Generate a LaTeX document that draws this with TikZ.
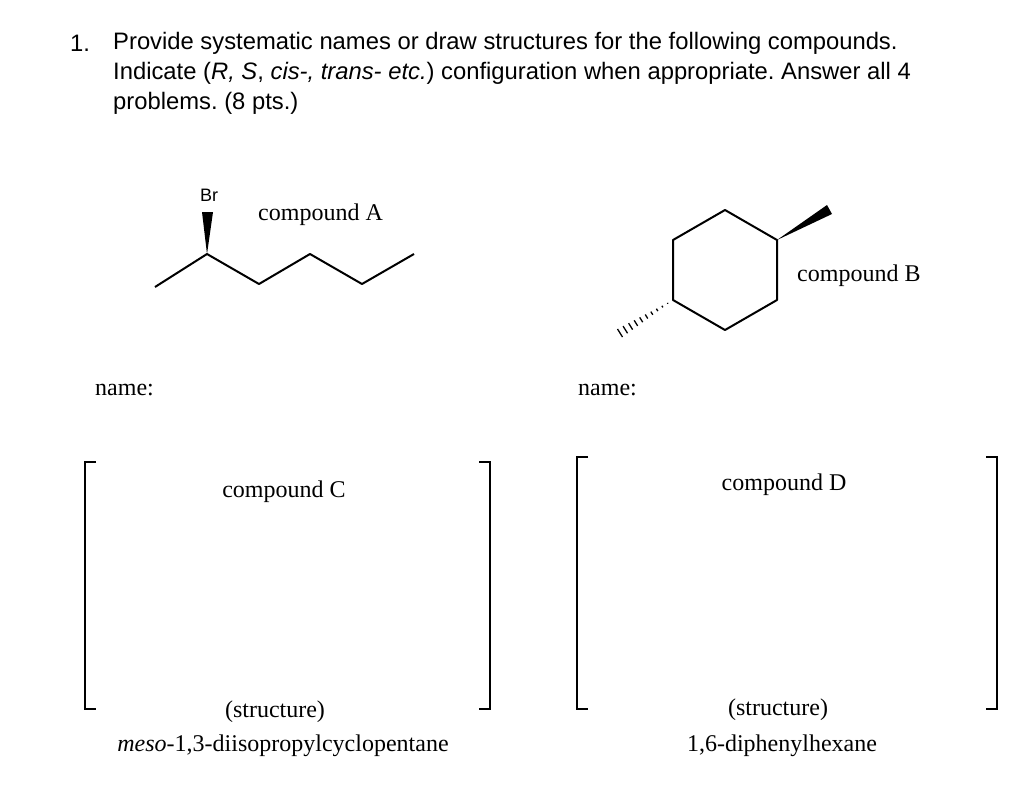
\documentclass[tikz,border=0pt]{standalone}
\usepackage{fontspec}
\usetikzlibrary{calc}
\setmainfont{Liberation Serif}
\newfontfamily\hv{Liberation Sans}
\frenchspacing
\begin{document}
\begin{tikzpicture}[x=1pt,y=-1pt,bond/.style={line width=2pt,line join=round},
 lab/.style={font=\fontsize{24}{28}\selectfont,inner sep=0pt},
 ttl/.style={font=\hv\fontsize{23.8}{28}\selectfont,inner sep=0pt,anchor=west},
 brk/.style={line width=1.6pt}]
\useasboundingbox (0,0) rectangle (1024,795);
\node[ttl] (n1) at (70,43) {1.};
\node[ttl] (t1) at (113,43) {Provide systematic names or draw structures for the following compounds.};
\node[ttl] (t2) at (113,73) {Indicate (\textit{R, S}, \textit{cis-, trans- etc.}) configuration when appropriate. Answer all 4};
\node[ttl] (t3) at (113,103) {problems. (8 pts.)};
% compound A
\draw[bond] (155,287)--(207,254)--(259,284)--(310,254)--(362,284)--(414,254);
\fill (207,254)--(202,212)--(213,212)--cycle;
\node[font=\hv\fontsize{18}{20}\selectfont,inner sep=0pt] (br) at (209,195) {Br};
\node[lab,anchor=west] (ca) at (258,215) {compound A};
% compound B
\draw[bond] (673,240)--(725,210)--(777,240)--(777,300)--(725,330)--(673,300)--cycle;
\fill (777,240)--(827,205)--(832,214)--cycle;
\foreach \t in {0.1,0.2,...,1.0}{\draw[line width=1.3pt] ($(673,300)!\t!(620,333)+(-\t*2.5,-\t*4)$)--($(673,300)!\t!(620,333)+(\t*2.5,\t*4)$);}
\node[lab,anchor=west] (cb) at (797,276) {compound B};
\node[lab,anchor=west] (na) at (95,390) {name:};
\node[lab,anchor=west] (nb) at (578,390) {name:};
% brackets
\draw[brk] (96,462)--(85,462)--(85,709)--(96,709);
\draw[brk] (479,462)--(490,462)--(490,709)--(479,709);
\draw[brk] (588,457)--(577,457)--(577,709)--(588,709);
\draw[brk] (986,457)--(997,457)--(997,709)--(986,709);
\node[lab] (cc) at (284,492) {compound C};
\node[lab] (cd) at (784,485) {compound D};
\node[lab] (s1) at (275,712) {(structure)};
\node[lab] (s2) at (778,710) {(structure)};
\node[lab] (m1) at (283,746) {\textit{meso}-1,3-diisopropylcyclopentane};
\node[lab] (m2) at (782,746) {1,6-diphenylhexane};
\end{tikzpicture}
\end{document}
